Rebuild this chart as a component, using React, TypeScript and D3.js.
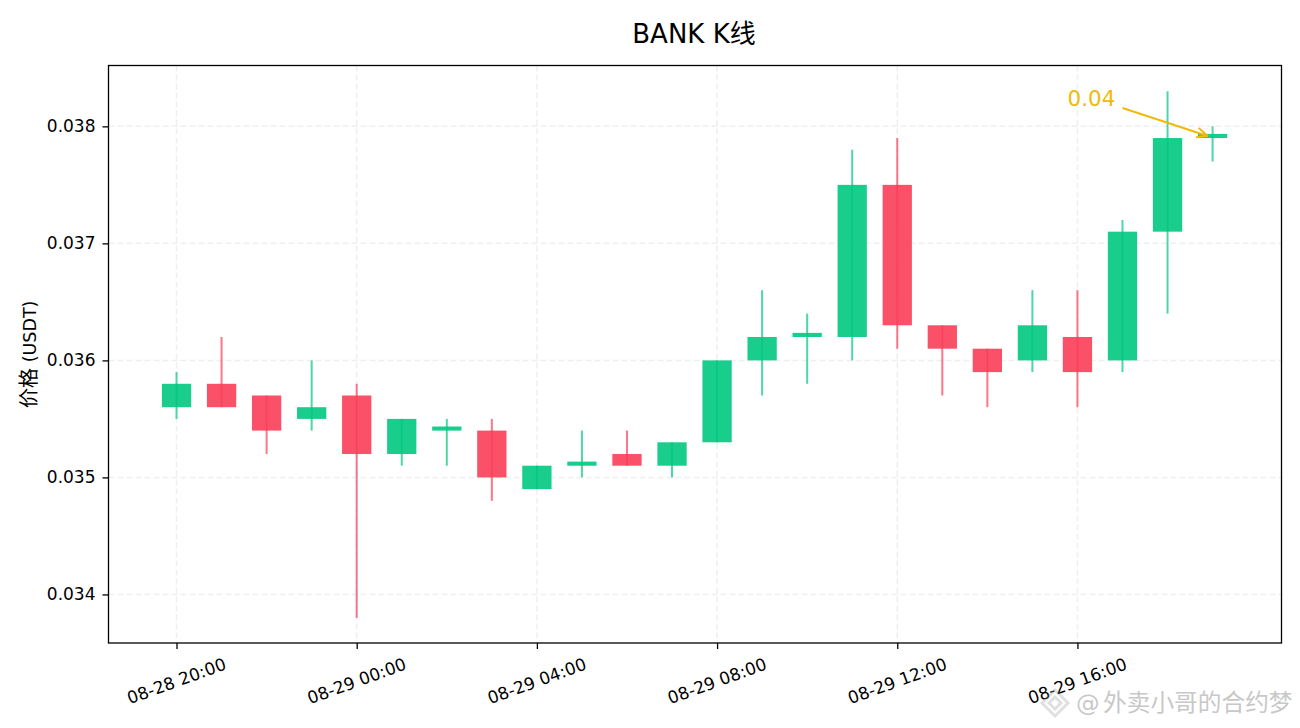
import React, { useRef, useEffect } from 'react'
import * as d3 from 'd3'

// one candle per hour, starting 08-28 20:00
const startTime = new Date(2025, 7, 28, 20, 0)
const opens = [0.0356, 0.0358, 0.0357, 0.0355, 0.0357, 0.0352, 0.0354, 0.0354, 0.0349, 0.0351, 0.0352, 0.0351, 0.0353, 0.036, 0.0362, 0.0362, 0.0375, 0.0363, 0.0361, 0.036, 0.0362, 0.036, 0.0371, 0.0379]
const closes = [0.0358, 0.0356, 0.0354, 0.0356, 0.0352, 0.0355, 0.0354, 0.035, 0.0351, 0.0351, 0.0351, 0.0353, 0.036, 0.0362, 0.0362, 0.0375, 0.0363, 0.0361, 0.0359, 0.0363, 0.0359, 0.0371, 0.0379, 0.0379]
const highs = [0.0359, 0.0362, 0.0357, 0.036, 0.0358, 0.0355, 0.0355, 0.0355, 0.0351, 0.0354, 0.0354, 0.0353, 0.036, 0.0366, 0.0364, 0.0378, 0.0379, 0.0363, 0.0361, 0.0366, 0.0366, 0.0372, 0.0383, 0.038]
const lows = [0.0355, 0.0356, 0.0352, 0.0354, 0.0338, 0.0351, 0.0351, 0.0348, 0.0349, 0.035, 0.0351, 0.035, 0.0353, 0.0357, 0.0358, 0.036, 0.0361, 0.0357, 0.0356, 0.0359, 0.0356, 0.0359, 0.0364, 0.0377]
const yTicks = [0.034, 0.035, 0.036, 0.037, 0.038]
const xTickHours = [0, 4, 8, 12, 16, 20]
const annotationLabel = '0.04'
const annotationValue = 0.0379

const UP_COLOR = '#00c87f'
const DOWN_COLOR = '#fa3e58'
const FONT = '"DejaVu Sans", "Noto Sans CJK SC", sans-serif'

const hoursLater = (h: number) => new Date(startTime.getTime() + h * 3600 * 1000)

const App: React.FC = () => {
  const svgRef = useRef<SVGSVGElement>(null)

  useEffect(() => {
    if (!svgRef.current) return

    const svg = d3.select(svgRef.current)
    svg.selectAll('*').remove()

    const margin = { top: 65.5, right: 18.5, bottom: 85, left: 108.5 }
    const width = 1300 - margin.left - margin.right
    const height = 728 - margin.top - margin.bottom

    const g = svg
      .append('g')
      .attr('transform', `translate(${margin.left},${margin.top})`)

    const xScale = d3.scaleTime()
      .domain([hoursLater(-1.51), hoursLater(24.53)])
      .range([0, width])

    const yScale = d3.scaleLinear()
      .domain([0.033585, 0.03852])
      .range([height, 0])

    const step = xScale(hoursLater(1)) - xScale(hoursLater(0))
    const bodyWidth = step * 0.65

    // Grid
    yTicks.forEach(t => {
      g.append('line')
        .attr('x1', 0).attr('x2', width)
        .attr('y1', yScale(t)).attr('y2', yScale(t))
        .attr('stroke', '#b0b0b0').attr('stroke-opacity', 0.2)
        .attr('stroke-width', 1.5).attr('stroke-dasharray', '6,3')
    })
    xTickHours.forEach(h => {
      const x = xScale(hoursLater(h))
      g.append('line')
        .attr('x1', x).attr('x2', x)
        .attr('y1', 0).attr('y2', height)
        .attr('stroke', '#b0b0b0').attr('stroke-opacity', 0.2)
        .attr('stroke-width', 1.5).attr('stroke-dasharray', '6,3')
    })

    // Candles
    opens.forEach((open, i) => {
      const close = closes[i]
      const x = xScale(hoursLater(i))
      const up = close >= open
      const color = up ? UP_COLOR : DOWN_COLOR
      g.append('line')
        .attr('x1', x).attr('x2', x)
        .attr('y1', yScale(highs[i])).attr('y2', yScale(lows[i]))
        .attr('stroke', color).attr('stroke-width', 2).attr('opacity', 0.7)
      // flat candles still get a thin body
      const bodyTop = Math.max(open, close, Math.min(open, close) + 0.000035)
      g.append('rect')
        .attr('x', x - bodyWidth / 2)
        .attr('width', bodyWidth)
        .attr('y', yScale(bodyTop))
        .attr('height', yScale(Math.min(open, close)) - yScale(bodyTop))
        .attr('fill', color).attr('opacity', 0.9)
    })

    // Axes
    const xAxis = g.append('g')
      .attr('transform', `translate(0,${height})`)
      .call(d3.axisBottom(xScale)
        .tickValues(xTickHours.map(hoursLater))
        .tickFormat(d => d3.timeFormat('%m-%d %H:%M')(d as Date))
        .tickSize(6).tickPadding(7))
    xAxis.selectAll('text')
      .attr('text-anchor', 'middle')
      .attr('y', 0)
      .attr('dy', '0.35em')
      .attr('transform', 'translate(-0.5,38) rotate(-20)')
      .style('font-size', '17px')
      .style('font-family', FONT)
      .attr('fill', '#000')

    const yAxis = g.append('g')
      .call(d3.axisLeft(yScale)
        .tickValues(yTicks)
        .tickFormat(d3.format('.3f'))
        .tickSize(6).tickPadding(7))
    yAxis.selectAll('text')
      .style('font-size', '17px')
      .style('font-family', FONT)
      .attr('fill', '#000')

    svg.selectAll('.tick line').attr('stroke', '#000').attr('stroke-width', 1.3)
    svg.selectAll('.domain').remove()

    // Frame
    g.append('rect')
      .attr('width', width).attr('height', height)
      .attr('fill', 'none').attr('stroke', '#000').attr('stroke-width', 1.3)

    // Axis label and title
    const yLabel = g.append('text')
      .attr('transform', `translate(-73,${height / 2}) rotate(-90)`)
      .style('text-anchor', 'middle')
      .style('font-size', '17.5px')
      .style('font-family', FONT)
    yLabel.append('tspan').style('font-size', '20px').text('价格')
    yLabel.append('tspan').text(' (USDT)')

    svg.append('text')
      .attr('x', 694)
      .attr('y', 43)
      .style('text-anchor', 'middle')
      .style('font-size', '26px')
      .style('font-family', FONT)
      .text('BANK K线')

    // Annotation on the last candle
    const tipX = xScale(hoursLater(23)) - 5
    const tipY = yScale(annotationValue) - 2
    svg.append('defs').append('marker')
      .attr('id', 'tip')
      .attr('viewBox', '0 -6 12 12')
      .attr('refX', 11).attr('refY', 0)
      .attr('markerWidth', 12).attr('markerHeight', 12)
      .attr('markerUnits', 'userSpaceOnUse')
      .attr('orient', 'auto')
      .append('path')
      .attr('d', 'M0,-5L11,0L0,5')
      .attr('fill', 'none').attr('stroke', '#f0b90b').attr('stroke-width', 2)

    g.append('line')
      .attr('x1', tipX - 85).attr('y1', tipY - 28)
      .attr('x2', tipX).attr('y2', tipY)
      .attr('stroke', '#f0b90b').attr('stroke-width', 2)
      .attr('marker-end', 'url(#tip)')

    g.append('text')
      .attr('x', tipX - 140)
      .attr('y', tipY - 30)
      .style('font-size', '21.5px')
      .style('font-family', FONT)
      .attr('fill', '#f0b90b')
      .text(annotationLabel)

    // Watermark
    const mark = svg.append('g').attr('transform', 'translate(1055,703)').attr('opacity', 0.3)
    mark.append('path')
      .attr('d', 'M0,-13L13,0L0,13L-13,0Z M0,-6L6,0L0,6L-6,0Z')
      .attr('fill', 'none').attr('stroke', '#999').attr('stroke-width', 3)
    const markText = svg.append('text')
      .attr('x', 1076)
      .attr('y', 711)
      .style('font-size', '23.7px')
      .style('font-family', FONT)
      .attr('fill', '#c8c8c8')
    markText.append('tspan').text('@')
    markText.append('tspan').attr('x', 1103).text('外卖小哥的合约梦')
  }, [])

  return (
    <svg
      ref={svgRef}
      width={1300}
      height={728}
      style={{ position: 'absolute', left: 0, top: 0, background: '#fff' }}
    />
  )
}

export default App
